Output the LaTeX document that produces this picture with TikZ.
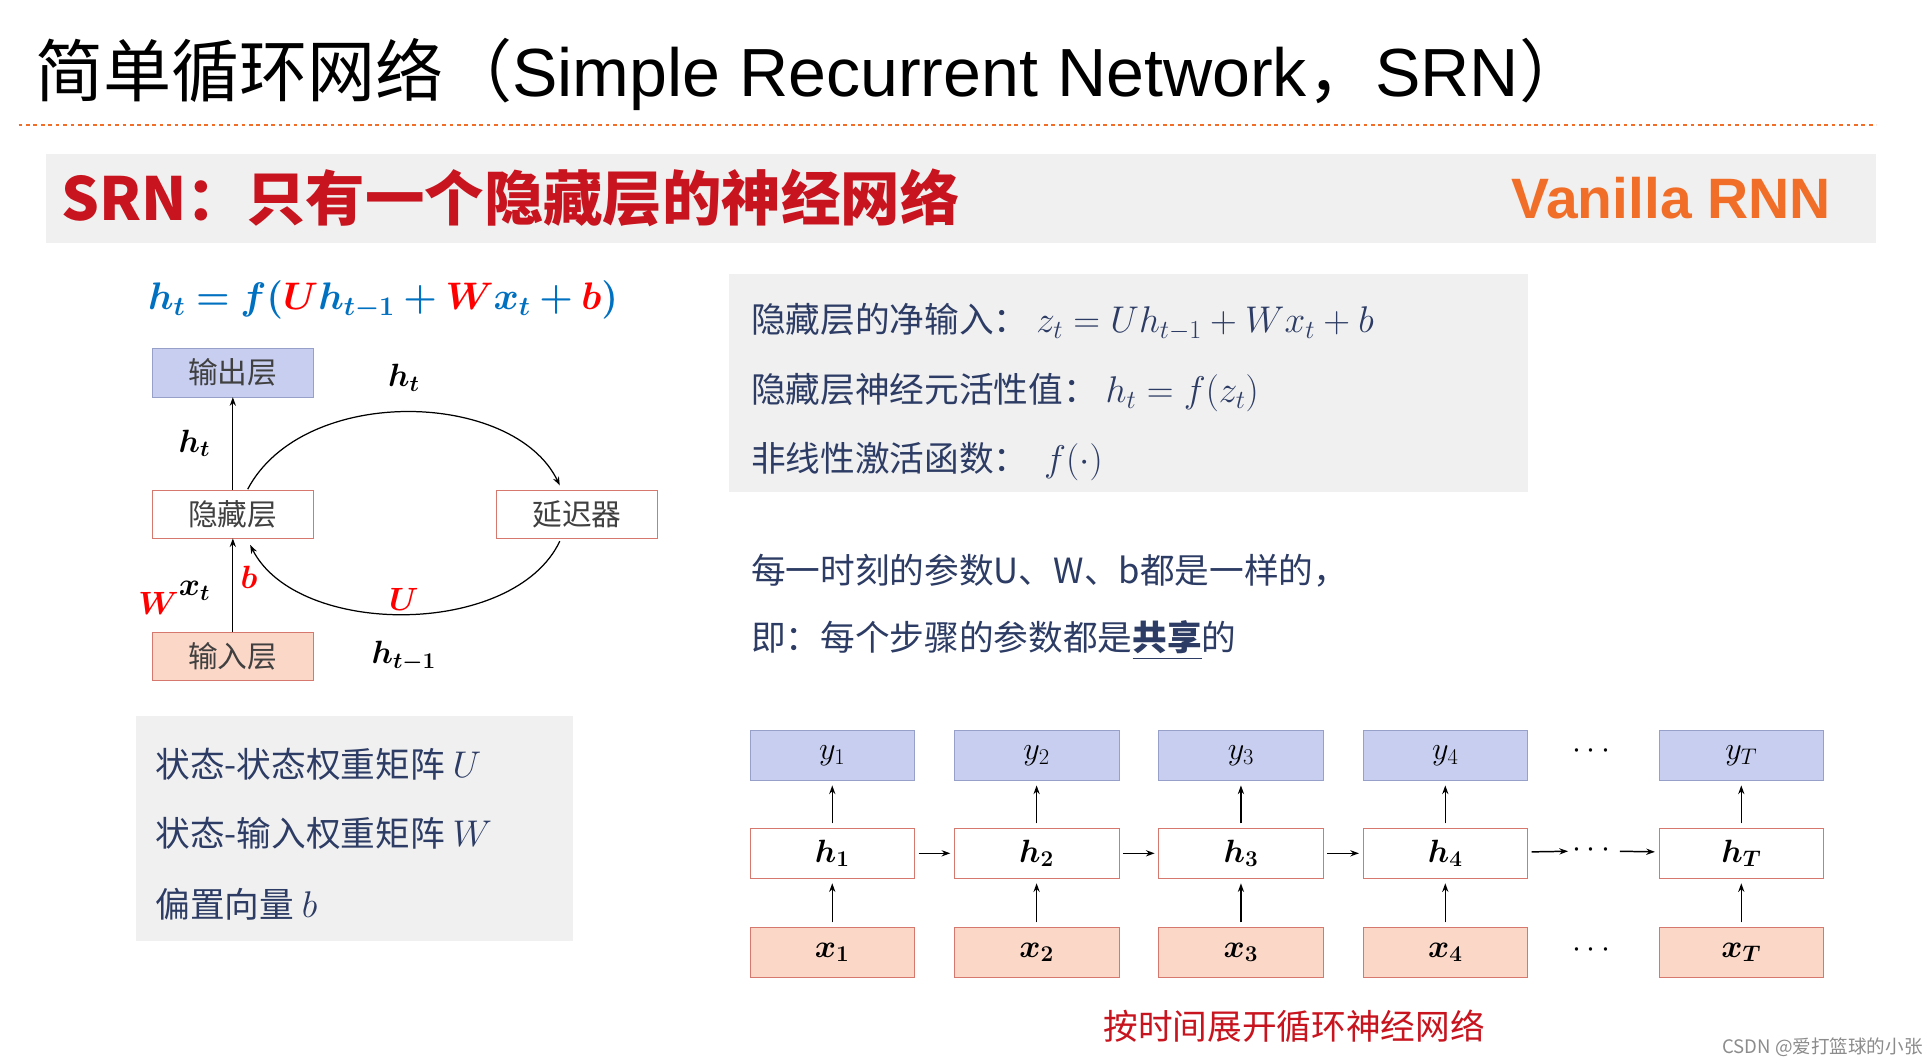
\RequirePackage{fix-cm}
\documentclass[tikz,border=0pt]{standalone}
\usepackage{amsmath,bm}
\usepackage{fontspec}
\setsansfont{Liberation Sans}
\newfontfamily\cjk{Noto Sans CJK SC}
\usetikzlibrary{arrows.meta}
\definecolor{boxblue}{RGB}{199,206,240}
\definecolor{boxpeach}{RGB}{251,215,200}
\definecolor{edgered}{RGB}{214,120,110}
\definecolor{edgeblue}{RGB}{150,160,200}
\definecolor{txtblue}{RGB}{45,60,100}
\definecolor{eqblue}{RGB}{0,112,192}
\definecolor{titred}{RGB}{200,20,30}
\definecolor{vorange}{RGB}{240,110,40}
\begin{document}
\begin{tikzpicture}[x=1pt,y=-1pt,
  ob/.style={draw=edgeblue,fill=boxblue,minimum width=130pt,minimum height=39pt,inner sep=0pt},
  hb/.style={draw=edgered,fill=white,minimum width=130pt,minimum height=39pt,inner sep=0pt},
  ib/.style={draw=edgered,fill=boxpeach,minimum width=130pt,minimum height=39pt,inner sep=0pt},
  ar/.style={-{Stealth[length=7pt,width=5pt]},line width=1.2pt},
  cn/.style={font=\cjk\fontsize{24}{24}\selectfont,text=black!75},
  gt/.style={anchor=west,text=txtblue,font=\cjk\fontsize{28}{28}\selectfont},
  ml/.style={font=\fontsize{26}{26}\selectfont}]
\useasboundingbox (0,0) rectangle (1560,857);
\fill[white] (0,0) rectangle (1560,857);
\node[anchor=west,font=\fontsize{55}{55}\selectfont] (title) at (25,60) {{\cjk 简单循环网络（}\sffamily Simple Recurrent Network{\cjk ，}SRN{\cjk ）}};
\draw[vorange,dashed,line width=1pt] (15,101) -- (1515,101);
\fill[black!6] (37,124) rectangle (1515,196);
\node[anchor=west,text=titred,font=\cjk\bfseries\fontsize{48}{48}\selectfont] (sub) at (46,160) {SRN：只有一个隐藏层的神经网络};
\node[anchor=east,text=vorange,font=\sffamily\bfseries\fontsize{46}{46}\selectfont] (van) at (1482,160) {Vanilla RNN};
\node[anchor=west,font=\fontsize{31}{31}\selectfont,text=eqblue] (eq) at (116,242) {$\bm{h_t = f(}{\color{red}\bm U}\bm{h_{t-1}+}{\color{red}\bm W}\bm{x_t+}{\color{red}\bm b}\bm{)}$};
% left diagram
\node[ob,cn] (out) at (188,301) {输出层};
\node[hb,cn] (hid) at (188,415) {隐藏层};
\node[hb,cn] (del) at (466,415) {延迟器};
\node[ib,cn] (inp) at (188,530) {输入层};
\draw[ar,line width=1pt] (hid) -- (out);
\draw[ar,line width=1pt] (inp) -- (hid);
\node[ml] (l1) at (157,358) {$\bm{h_t}$};
\node[ml,text=red] (lW) at (128,487) {$\bm W$};
\node[ml] (lx) at (157,477) {$\bm{x_t}$};
\node[ml,text=red] (lb) at (201,466) {$\bm b$};
\coordinate (a1) at (200,395);
\coordinate (a2) at (452,392);
\draw[ar,line width=1pt] (a1) .. controls (245,310) and (415,315) .. (a2);
\coordinate (b1) at (452,437);
\coordinate (b2) at (202,440);
\draw[ar,line width=1pt] (b1) .. controls (415,515) and (240,515) .. (b2);
\node[ml] (l2) at (326,305) {$\bm{h_t}$};
\node[ml,text=red] (lU) at (326,484) {$\bm U$};
\node[ml] (l3) at (326,530) {$\bm{h_{t-1}}$};
% gray box left
\fill[black!6] (110,578) rectangle (463,760);
\node[gt] (g1) at (122,617) {状态-状态权重矩阵 \fontsize{30}{30}\selectfont$U$};
\node[gt] (g2) at (122,673) {状态-输入权重矩阵 \fontsize{30}{30}\selectfont$W$};
\node[gt] (g3) at (122,730) {偏置向量 \fontsize{30}{30}\selectfont$b$};
% gray box right
\fill[black!6] (589,221) rectangle (1234,397);
\node[gt] (r1) at (603,260) {隐藏层的净输入：\ \fontsize{30}{30}\selectfont$z_t=Uh_{t-1}+Wx_t+b$};
\node[gt] (r2) at (603,317) {隐藏层神经元活性值：\ \fontsize{30}{30}\selectfont$h_t=f(z_t)$};
\node[gt] (r3) at (603,373) {非线性激活函数：\ \ \fontsize{30}{30}\selectfont$f(\cdot)$};
\node[gt] (p1) at (603,461) {每一时刻的参数U、W、b都是一样的，};
\node[gt] (p2) at (603,517) {即：每个步骤的参数都是\underline{\textbf{共享}}的};
% unrolled
\foreach \n/\x/\s in {1/672/1,2/837/2,3/1002/3,4/1167/4,T/1406/T}{
  \node[ob,minimum width=133pt,minimum height=40pt,ml] (y\n) at (\x,610) {$y_{\s}$};
  \node[hb,minimum width=133pt,minimum height=40pt,ml] (h\n) at (\x,689) {$\bm{h_{\s}}$};
  \node[ib,minimum width=133pt,minimum height=40pt,ml] (x\n) at (\x,769) {$\bm{x_{\s}}$};
  \draw[ar,shorten <=4pt,shorten >=4pt] (x\n) -- (h\n);
  \draw[ar,shorten <=4pt,shorten >=4pt] (h\n) -- (y\n);
}
\node[ml] (dy) at (1287,607) {$\cdots$};
\node[ml] (dh) at (1287,687) {$\cdots$};
\node[ml] (dx) at (1287,767) {$\cdots$};
\draw[ar,shorten <=3pt,shorten >=3pt] (h1) -- (h2);
\draw[ar,shorten <=3pt,shorten >=3pt] (h2) -- (h3);
\draw[ar,shorten <=3pt,shorten >=3pt] (h3) -- (h4);
\draw[ar,shorten <=3pt,shorten >=0pt] (h4) -- (dh);
\draw[ar,shorten <=0pt,shorten >=3pt] (dh) -- (hT);
\node[text=titred,font=\cjk\fontsize{28}{28}\selectfont] (cap) at (1045,829) {按时间展开循环神经网络};
\node[anchor=east,text=black!45,font=\cjk\fontsize{15}{15}\selectfont] (wm) at (1556,846) {CSDN @爱打篮球的小张};
\end{tikzpicture}
\end{document}
